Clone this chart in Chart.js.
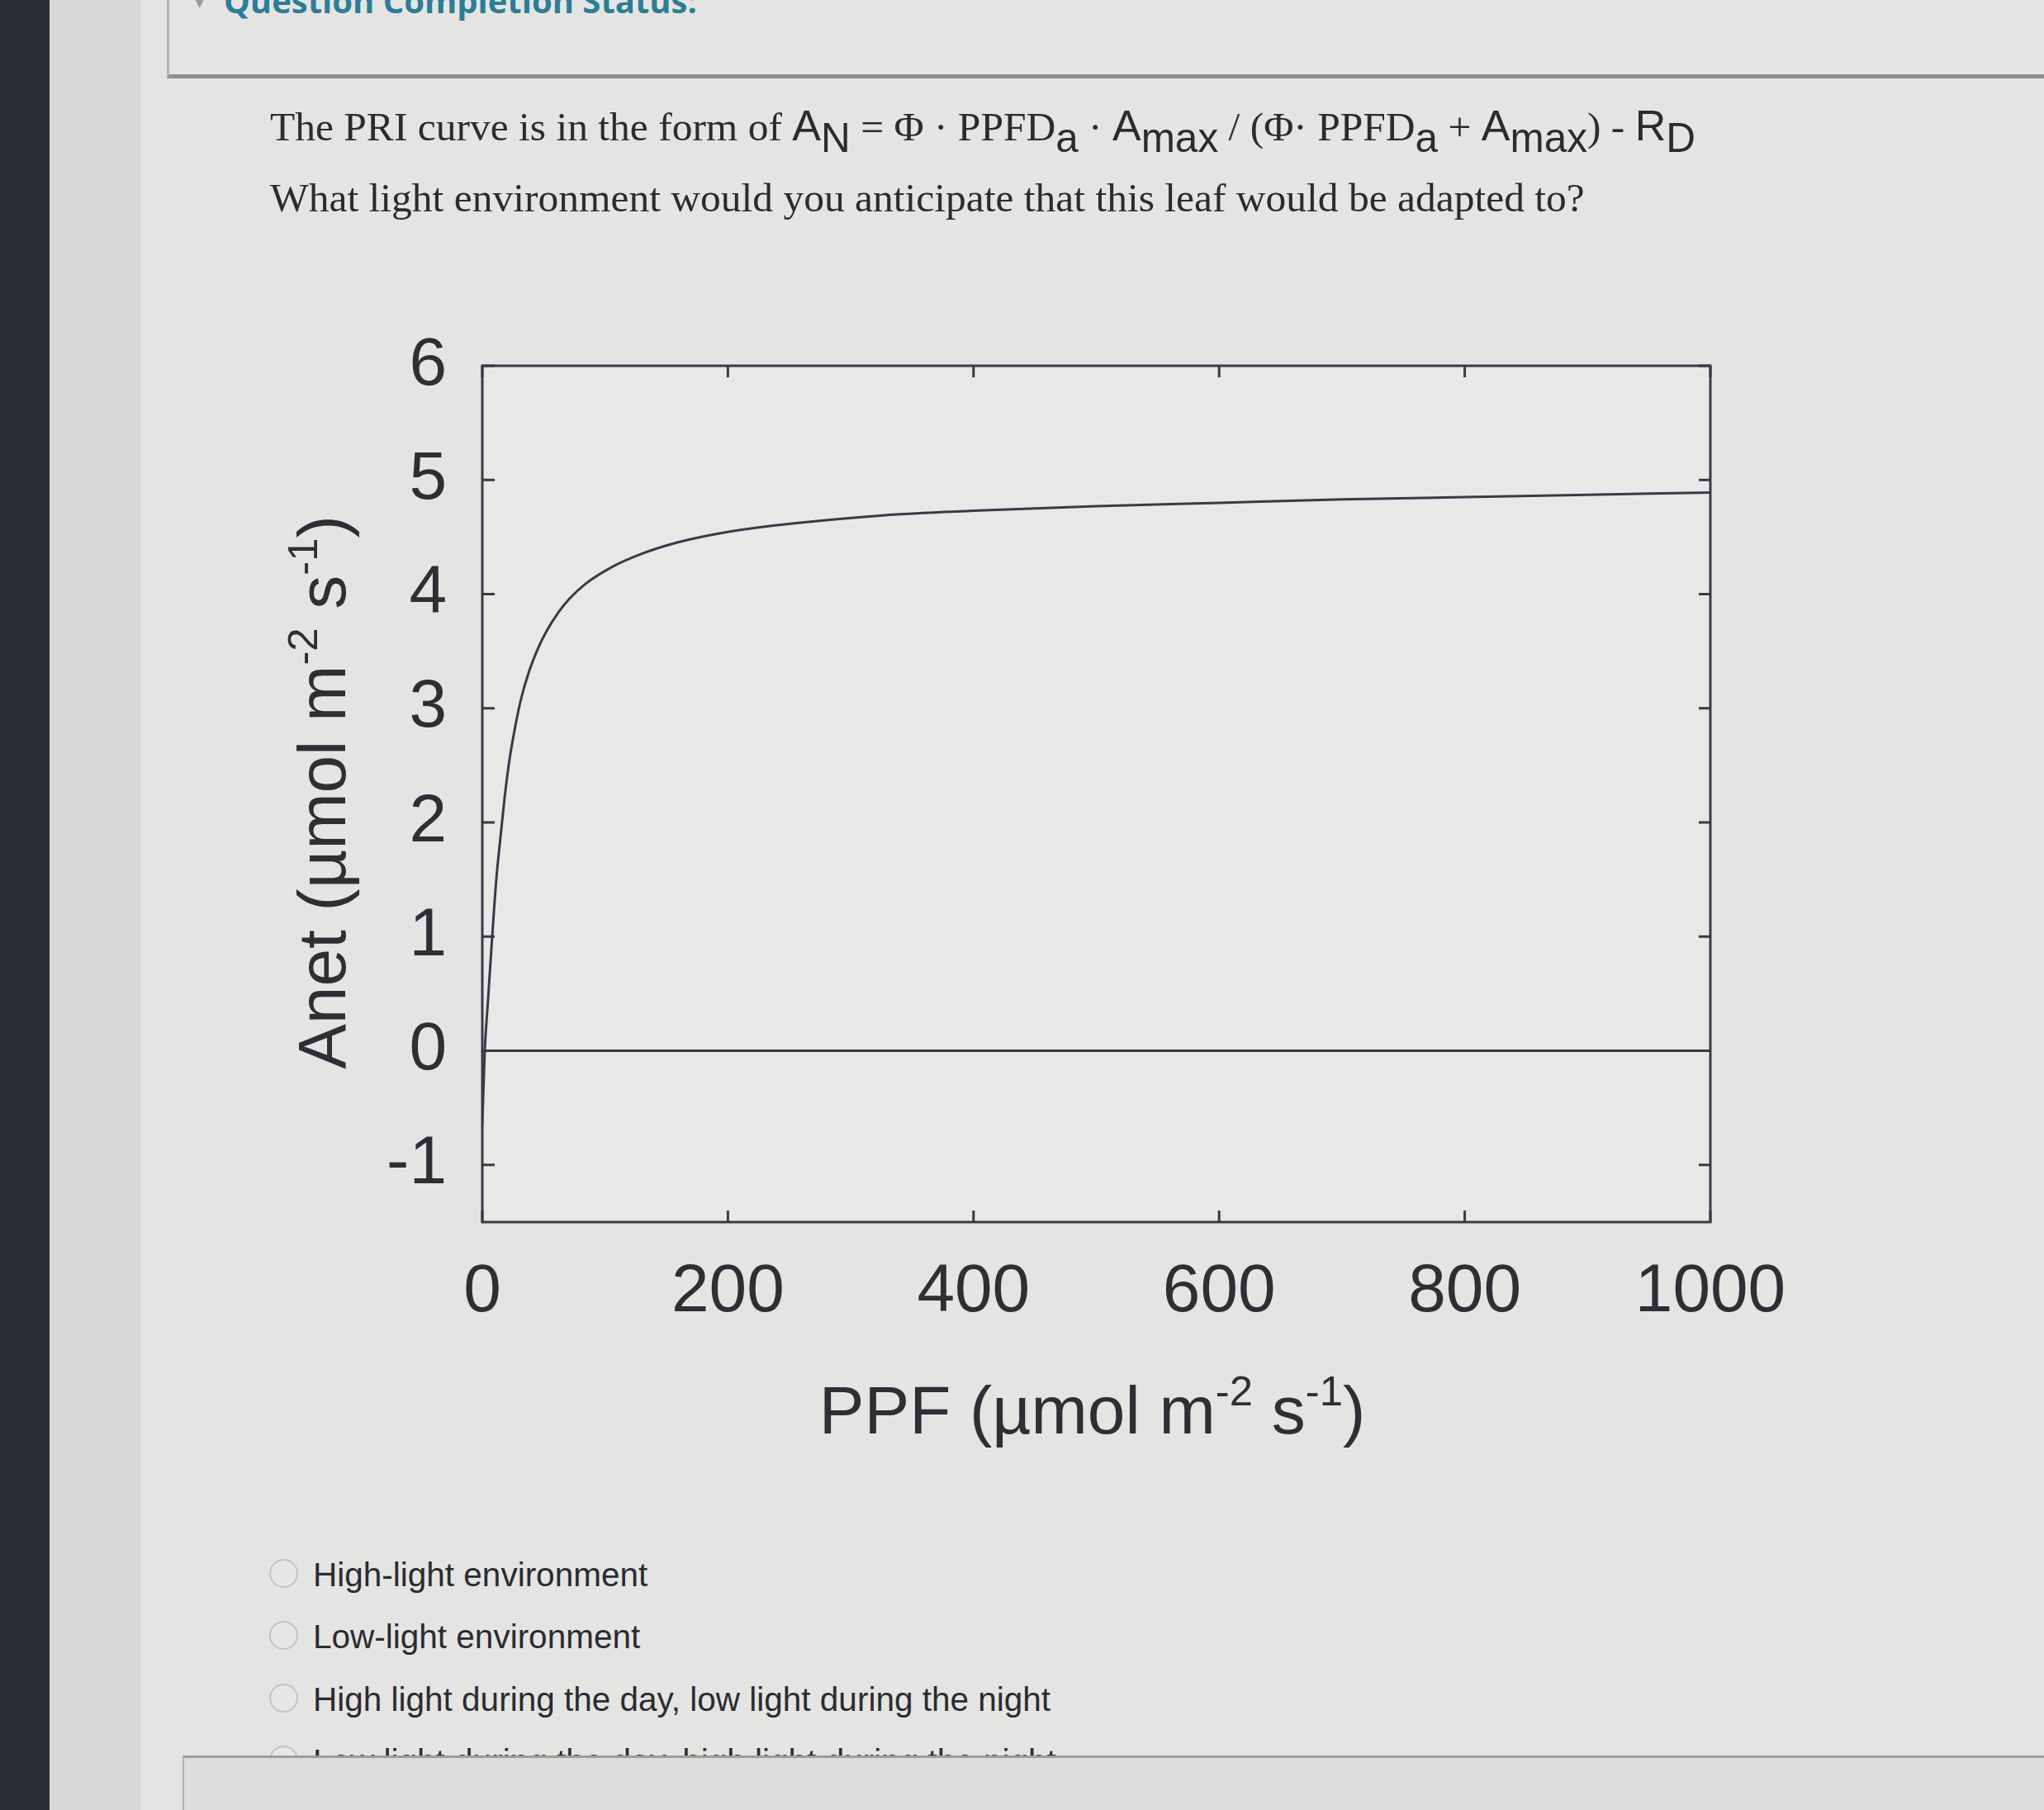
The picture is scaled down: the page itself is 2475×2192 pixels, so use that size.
<!DOCTYPE html>
<html>
<head>
<meta charset="utf-8">
<script src="https://cdn.jsdelivr.net/npm/chart.js@4.4.0/dist/chart.umd.min.js"></script>
<style>
  html, body { margin: 0; padding: 0; }
  body { width: 2475px; height: 2192px; position: relative; overflow: hidden; background: #e4e5e3; color: #2b2b30; font-family: "Liberation Sans", Arial, sans-serif; }
  #strip { position: absolute; left: 0; top: 0; width: 60px; height: 2192px; background: #2a2e34; }
  #gutter { position: absolute; left: 60px; top: 0; width: 110px; height: 2192px; background: #d8d9d7; }
  #statusBox { position: absolute; left: 202px; top: -10px; right: 0; height: 100px; border-left: 3px solid #b3b4b2; border-bottom: 5px solid #8e8f8d; }
  #status { position: absolute; left: 271px; top: -19px; font: bold 40px "Open Sans", sans-serif; color: #2c7d96; line-height: 1; white-space: nowrap; }
  #arrow { position: absolute; left: 236px; top: -8px; font-size: 22px; color: #9a9b99; line-height: 1; }
  .q { position: absolute; left: 327px; font-family: "Liberation Serif", serif; font-size: 49.5px; line-height: 1; white-space: nowrap; }
  .f { font-family: "Liberation Sans", sans-serif; font-size: 1.05em; }
  .s { font-family: "Liberation Sans", sans-serif; position: relative; top: 0.28em; font-size: 1.0em; }
  #wrap { position: absolute; left: 280px; top: 380px; width: 1960px; height: 1450px; }
  .opt { position: absolute; left: 379px; font-size: 40.5px; line-height: 1; white-space: nowrap; }
  .radio { position: absolute; left: 326px; width: 31px; height: 31px; border: 2px solid #c3c4c2; border-radius: 50%; background: #e7e8e6; }
  #bottomBox { position: absolute; left: 221px; top: 2126px; right: 0; bottom: 0; background: #dcdddb; border-top: 3px solid #9c9d9b; border-left: 2px solid #b3b4b2; }
</style>
</head>
<body>
<div id="strip"></div>
<div id="gutter"></div>
<div id="statusBox"></div>
<div id="arrow">▾</div>
<div id="status">Question Completion Status:</div>

<div class="q" style="top:127px">The PRI curve is in the form of <span class="f">A</span><span class="s">N</span> = Φ · PPFD<span class="s">a</span> · <span class="f">A</span><span class="s">max</span> / (Φ· PPFD<span class="s">a</span> + <span class="f">A</span><span class="s">max</span>) - <span class="f">R</span><span class="s">D</span></div>
<div class="q" style="top:215px">What light environment would you anticipate that this leaf would be adapted to?</div>

<div id="wrap"><canvas id="chart"></canvas></div>

<div class="radio" style="top:1888px"></div>
<div class="opt" style="top:1887px">High-light environment</div>
<div class="radio" style="top:1963px"></div>
<div class="opt" style="top:1962px">Low-light environment</div>
<div class="radio" style="top:2039px"></div>
<div class="opt" style="top:2038px">High light during the day, low light during the night</div>
<div class="radio" style="top:2114px"></div>
<div class="opt" style="top:2113px">Low light during the day, high light during the night</div>
<div id="bottomBox"></div>

<script>
// light response curve
const ppf  = [0, 2, 4.7, 8, 11.4, 14.6, 18, 22, 27, 31.5, 38, 46, 52, 62, 71, 84, 106, 129, 158, 192, 237, 326, 400, 500, 600, 700, 800, 900, 1000];
const anet = [-0.65, 0.0, 0.45, 0.99, 1.5, 1.85, 2.2, 2.54, 2.85, 3.08, 3.32, 3.54, 3.67, 3.84, 3.96, 4.09, 4.24, 4.35, 4.45, 4.53, 4.6, 4.69, 4.73, 4.77, 4.8, 4.83, 4.85, 4.87, 4.89];
const zeroX = [0, 1000];
const zeroY = [0, 0];
const xTicks = [0, 200, 400, 600, 800, 1000];
const yTicks = [-1, 0, 1, 2, 3, 4, 5, 6];

const ink = '#2e2e35';
const lineCol = '#3a3946';
const fontFam = '"Liberation Sans", Arial, sans-serif';

function richText(ctx, parts, size) {
  let w = 0;
  parts.forEach(p => {
    ctx.font = (p.sup ? size * 0.62 : size) + 'px ' + fontFam;
    p.w = ctx.measureText(p.t).width;
    w += p.w;
  });
  let x = -w / 2;
  parts.forEach(p => {
    ctx.font = (p.sup ? size * 0.62 : size) + 'px ' + fontFam;
    ctx.fillText(p.t, x, p.sup ? -size * 0.42 : 0);
    x += p.w;
  });
}

const framePlugin = {
  id: 'frame',
  beforeDraw(chart) {
    const a = chart.chartArea, ctx = chart.ctx;
    ctx.save();
    ctx.fillStyle = '#e8e9e7';
    ctx.fillRect(a.left, a.top, a.right - a.left, a.bottom - a.top);
    ctx.restore();
  },
  afterDraw(chart) {
    const a = chart.chartArea, ctx = chart.ctx;
    const xs = chart.scales.x, ys = chart.scales.y;
    ctx.save();
    ctx.strokeStyle = lineCol;
    ctx.lineWidth = 3;
    ctx.strokeRect(a.left, a.top, a.right - a.left, a.bottom - a.top);
    ctx.beginPath();
    xTicks.forEach(v => {
      const px = xs.getPixelForValue(v);
      ctx.moveTo(px, a.bottom); ctx.lineTo(px, a.bottom - 14);
      ctx.moveTo(px, a.top); ctx.lineTo(px, a.top + 14);
    });
    yTicks.forEach(v => {
      const py = ys.getPixelForValue(v);
      ctx.moveTo(a.left, py); ctx.lineTo(a.left + 15, py);
      ctx.moveTo(a.right, py); ctx.lineTo(a.right - 14, py);
    });
    ctx.stroke();

    // axis titles with superscripts
    ctx.fillStyle = ink;
    ctx.textBaseline = 'alphabetic';
    ctx.save();
    ctx.translate((a.left + a.right) / 2 - 5, 1356);
    richText(ctx, [{t: 'PPF (\u00b5mol m'}, {t: '-2', sup: true}, {t: ' s'}, {t: '-1', sup: true}, {t: ')'}], 82);
    ctx.restore();
    ctx.save();
    ctx.translate(138, (a.top + a.bottom) / 2 - 2);
    ctx.rotate(-Math.PI / 2);
    richText(ctx, [{t: 'Anet (\u00b5mol m'}, {t: '-2', sup: true}, {t: ' s'}, {t: '-1', sup: true}, {t: ')'}], 82);
    ctx.restore();
    ctx.restore();
  }
};

new Chart(document.getElementById('chart'), {
  type: 'line',
  data: {
    datasets: [
      {
        data: ppf.map((x, i) => ({x: x, y: anet[i]})),
        borderColor: lineCol,
        borderWidth: 3,
        pointRadius: 0,
        cubicInterpolationMode: 'monotone',
        fill: false
      },
      {
        data: zeroX.map((x, i) => ({x: x, y: zeroY[i]})),
        borderColor: lineCol,
        borderWidth: 3,
        pointRadius: 0,
        fill: false
      }
    ]
  },
  options: {
    responsive: true,
    maintainAspectRatio: false,
    devicePixelRatio: 1,
    animation: false,
    layout: { autoPadding: false, padding: { left: 0, top: 63, right: 169, bottom: 0 } },
    plugins: { legend: { display: false }, tooltip: { enabled: false } },
    scales: {
      x: {
        type: 'linear',
        min: 0,
        max: 1000,
        afterBuildTicks: s => { s.ticks = xTicks.map(v => ({value: v})); },
        afterFit: s => { s.height = 350; s.paddingLeft = 0; s.paddingRight = 0; },
        grid: { display: false, drawTicks: false },
        border: { display: false },
        ticks: { padding: 36, color: ink, maxRotation: 0, autoSkip: false, font: { size: 82, family: fontFam }, callback: v => String(v) }
      },
      y: {
        type: 'linear',
        min: -1.5,
        max: 6,
        afterBuildTicks: s => { s.ticks = yTicks.map(v => ({value: v})); },
        afterFit: s => { s.width = 304; s.paddingTop = 0; s.paddingBottom = 0; },
        grid: { display: false, drawTicks: false },
        border: { display: false },
        ticks: { padding: 43, color: ink, autoSkip: false, font: { size: 82, family: fontFam }, callback: v => String(v) }
      }
    }
  },
  plugins: [framePlugin]
});
</script>
</body>
</html>
